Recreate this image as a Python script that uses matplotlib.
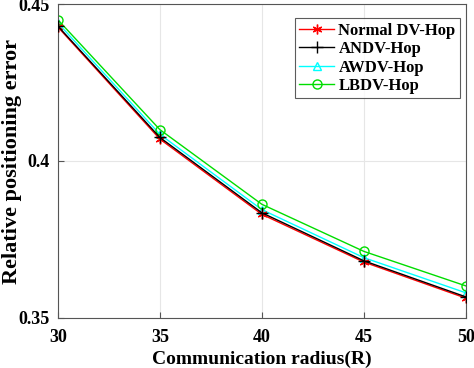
import matplotlib
matplotlib.use('Agg')
from matplotlib import pyplot

radius = [30, 35, 40, 45, 50]
normal_dvhop = [0.4427, 0.4070, 0.3830, 0.3678, 0.3563]
andv_hop = [0.4430, 0.4075, 0.3835, 0.3682, 0.3567]
awdv_hop = [0.4440, 0.4085, 0.3845, 0.3692, 0.3580]
lbdv_hop = [0.4450, 0.4100, 0.3862, 0.3712, 0.3602]

pyplot.rcParams['font.family'] = ['Liberation Serif', 'DejaVu Serif']
pyplot.rcParams['font.weight'] = 'bold'

fig = pyplot.figure(figsize=(4.74, 3.68), dpi=100)
ax = fig.add_axes([0.122, 0.136, 0.861, 0.853])

# asterisk marker like matlab's '*'
ax.plot(radius, normal_dvhop, color='red', marker=(6, 2, 0), markersize=7, markeredgewidth=1, linewidth=1, label='Normal DV-Hop', zorder=3)
ax.plot(radius, andv_hop, color='black', marker='+', markersize=8, linewidth=1, label='ANDV-Hop', zorder=4)
ax.plot(radius, awdv_hop, color='cyan', marker='^', markersize=6, markerfacecolor='none', linewidth=1, label='AWDV-Hop', zorder=2)
ax.plot(radius, lbdv_hop, color='#00dd00', marker='o', markersize=6.5, markerfacecolor='none', linewidth=1, label='LBDV-Hop', zorder=2)

ax.set_xlim(30, 50)
ax.set_ylim(0.35, 0.45)
ax.set_xticks([30, 35, 40, 45, 50])
ax.set_yticks([0.35, 0.4, 0.45])
ax.set_yticklabels(['0.35', '0.4', '0.45'])
ax.grid(True, color='#e6e6e6', linewidth=0.8)
ax.tick_params(direction='in', labelsize=13, color='#555555', length=4, pad=6)
ax.tick_params(axis='x', pad=8)
for s in ax.spines.values():
    s.set_color('#555555')

ax.set_xlabel('Communication radius(R)', fontsize=14, fontweight='bold', va='top')
ax.xaxis.set_label_coords(0.5, -0.105)
ax.set_ylabel('Relative positioning error', fontsize=16, fontweight='bold')
ax.yaxis.set_label_coords(-0.088, 0.5)

leg = ax.legend(loc='upper right', bbox_to_anchor=(0.993, 0.965), frameon=True, fancybox=False,
                edgecolor='#333333', handlelength=2.1, handletextpad=0.25, borderpad=0.25,
                labelspacing=0.15, borderaxespad=0.2, prop={'weight': 'bold', 'size': 12})
leg.get_frame().set_linewidth(0.8)

pyplot.savefig('out.png', dpi=100)
